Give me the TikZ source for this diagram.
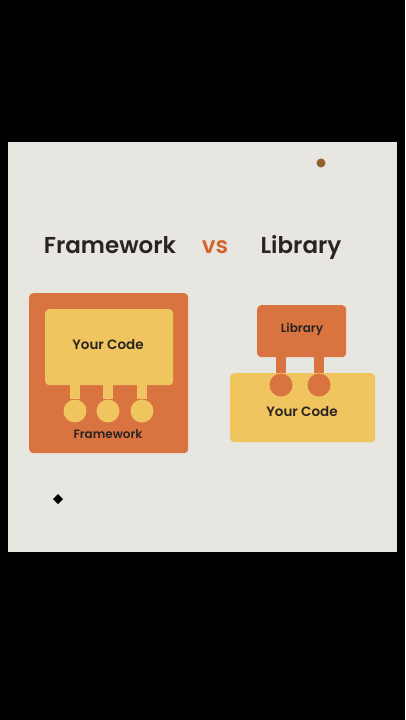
\documentclass[tikz,border=0pt]{standalone}
\usepackage{fontspec}
\setmainfont{Poppins}[UprightFont={* Medium},BoldFont={* SemiBold}]
\definecolor{panelbg}{HTML}{E8E6E1}
\definecolor{fworange}{HTML}{D97441}
\definecolor{codeyellow}{HTML}{F0C55F}
\definecolor{inkdark}{HTML}{2A2420}
\definecolor{vsorange}{HTML}{D2652B}
\begin{document}
\begin{tikzpicture}[x=1pt,y=-1pt,
    box/.style={rounded corners=4pt,inner sep=0pt,anchor=north west},
    plug/.style={circle,inner sep=0pt,minimum size=23pt},
    stem/.style={line width=10pt},
    label/.style={text=inkdark,inner sep=0pt},
    title/.style={label,anchor=base,font=\bfseries\fontsize{23}{28}\selectfont}]
        \fill[black] (0,0) rectangle (405,720);
        \useasboundingbox (0,0) rectangle (405,720);
        \fill[panelbg] (8,142) rectangle (397,552);
        % title
        \node[title] (fw) at (110,253) {Framework};
        \node[title,text=vsorange] (vs) at (215,253) {vs};
        \node[title] (lib) at (301,253) {Library};
        % framework side
        \node[box,fill=fworange,minimum width=159pt,minimum height=160pt] (frame) at (29,293) {};
        \node[box,fill=codeyellow,minimum width=128pt,minimum height=76pt] (yc) at (45,309) {};
        \node[label,font=\bfseries\fontsize{13.5}{16}\selectfont] (yctext) at (108,345) {Your Code};
        \begin{scope}[every node/.style={plug,fill=codeyellow}]
          \node (c1) at (75,411) {};
          \node (c2) at (108,411) {};
          \node (c3) at (142,411) {};
        \end{scope}
        \begin{scope}[every path/.style={draw=codeyellow,stem}]
          \path (c1) -- (c1 |- yc.south);
          \path (c2) -- (c2 |- yc.south);
          \path (c3) -- (c3 |- yc.south);
        \end{scope}
        \node[label,font=\bfseries\fontsize{12}{14}\selectfont] (fwtext) at (108,434) {Framework};
        % library side
        \node[box,fill=codeyellow,minimum width=145pt,minimum height=69pt] (app) at (230,373) {};
        \node[box,fill=fworange,minimum width=89pt,minimum height=52pt] (libbox) at (257,305) {};
        \node[label,font=\bfseries\fontsize{12}{14}\selectfont] (libtext) at (302,329) {Library};
        \begin{scope}[every node/.style={plug,fill=fworange}]
          \node (d1) at (281,385) {};
          \node (d2) at (319,385) {};
        \end{scope}
        \begin{scope}[every path/.style={draw=fworange,stem}]
          \path (d1) -- (d1 |- libbox.south);
          \path (d2) -- (d2 |- libbox.south);
        \end{scope}
        \node[label,font=\bfseries\fontsize{13.5}{16}\selectfont] (apptext) at (302,412) {Your Code};
        % small marks
        \fill[brown!75!black] (321,163) circle (4.5pt);
        \fill[black] (58,494) -- (63,499) -- (58,504) -- (53,499) -- cycle;
\end{tikzpicture}
\end{document}
